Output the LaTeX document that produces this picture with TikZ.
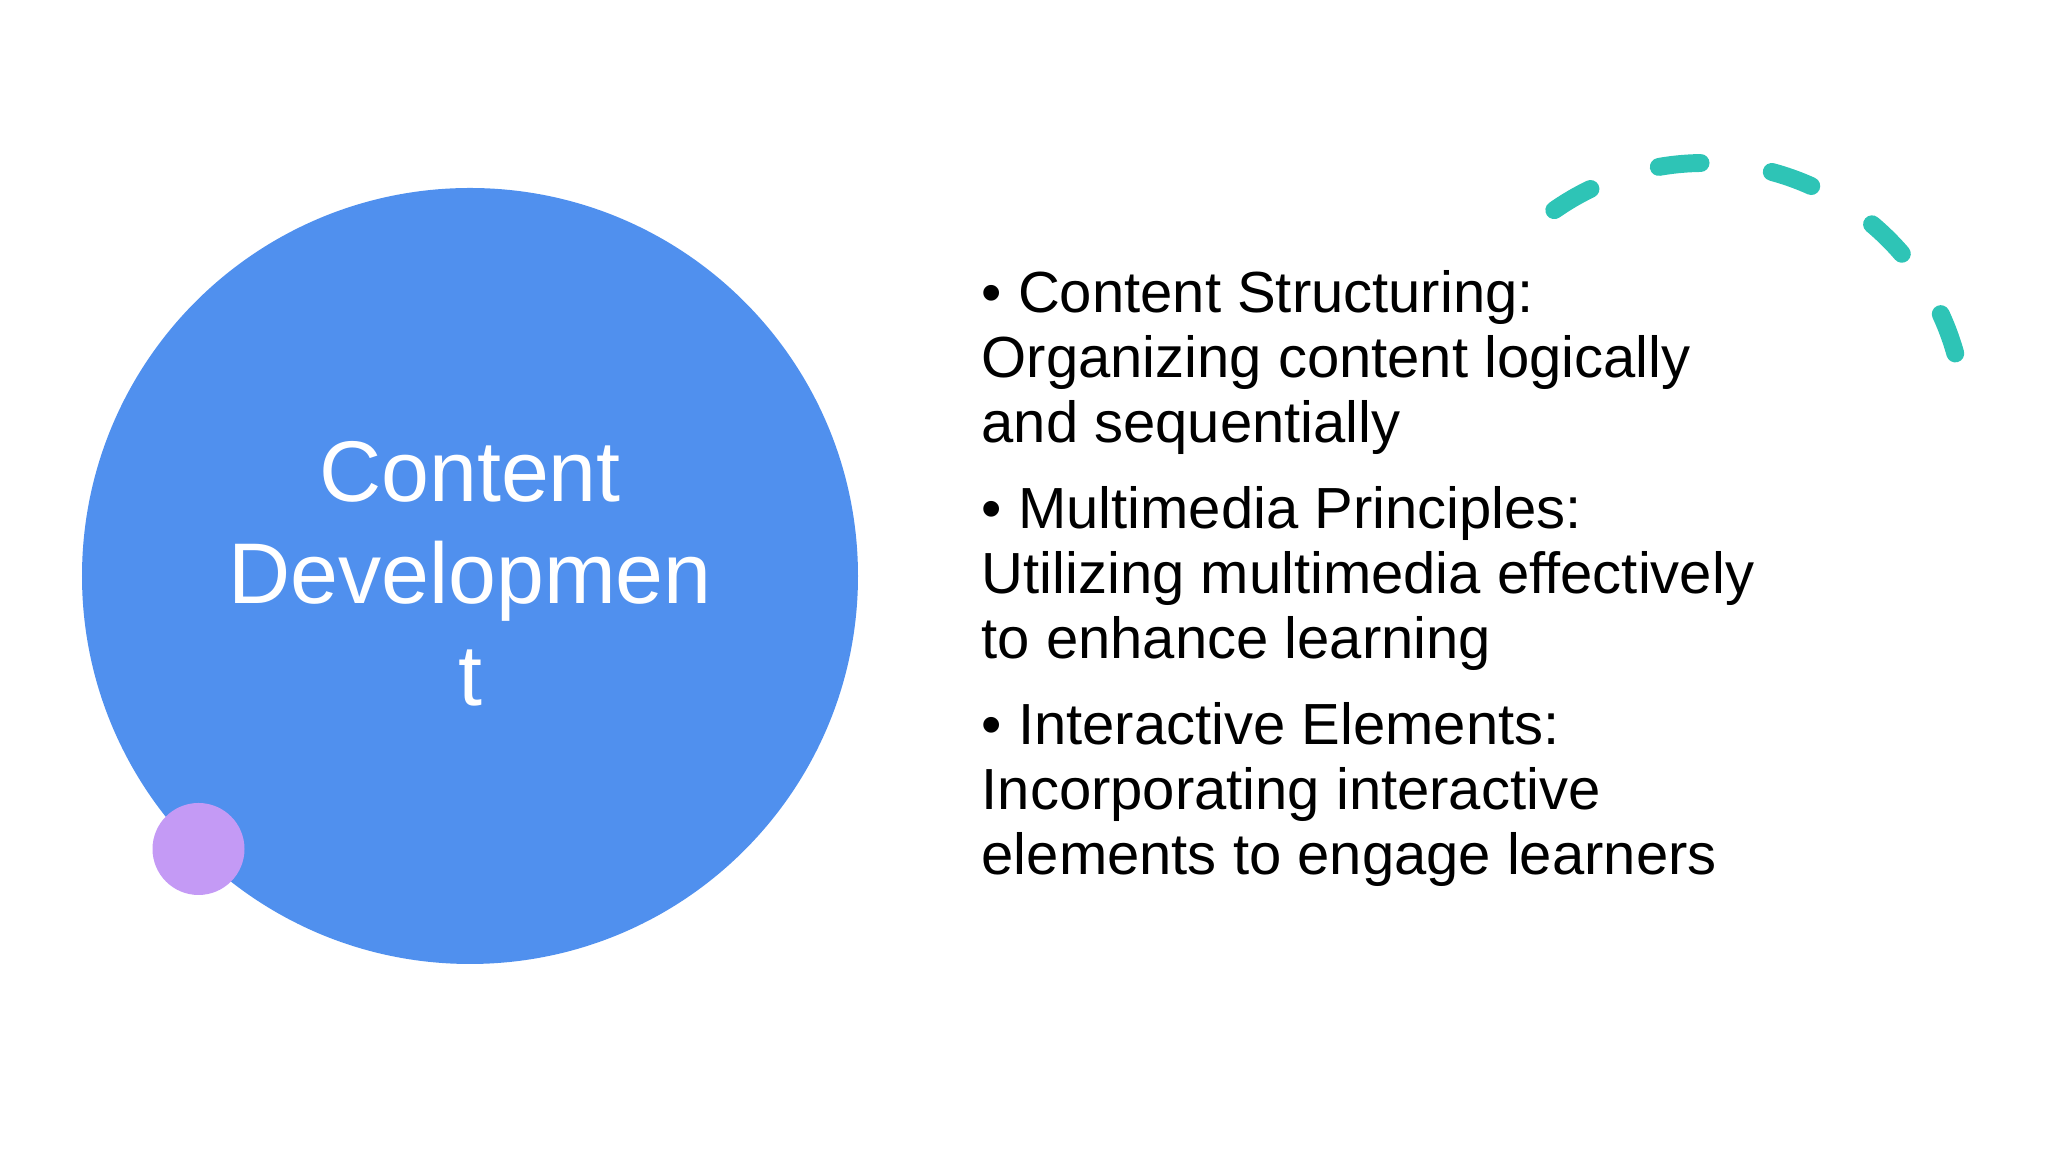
\documentclass[tikz,border=0pt]{standalone}
\usepackage{fontspec}
\setmainfont{Liberation Sans}
\definecolor{bigblue}{HTML}{5090EE}
\definecolor{lilac}{HTML}{C49AF5}
\definecolor{teal}{HTML}{2EC4B6}
\begin{document}
\begin{tikzpicture}
\useasboundingbox (0,0) rectangle (20.48,11.52);
\tikzset{
  bullettext/.style={anchor=north west,align=left,font=\fontsize{16.5}{18.5}\selectfont,text=black,inner sep=0pt},
}
\fill[bigblue] (4.70,5.76) circle (3.88);
\node[circle,fill=lilac,minimum size=0.92cm,inner sep=0pt] (dot) at (1.985,3.03) {};
\node[align=center,text=white,font=\fontsize{24.5}{29}\selectfont] (title) at (4.70,5.78) {Content\\Developmen\\t};
\draw[teal,line width=5.1pt,line cap=round,dash pattern=on 0.42cm off 0.72cm] ([shift={(125:2.61)}]17.04,7.28) arc (125:12:2.61);
\node[bullettext] (b1) at (9.81,8.82) {• Content Structuring:\\Organizing content logically\\and sequentially};
\node[bullettext] (b2) at (9.81,6.66) {• Multimedia Principles:\\Utilizing multimedia effectively\\to enhance learning};
\node[bullettext] (b3) at (9.81,4.50) {• Interactive Elements:\\Incorporating interactive\\elements to engage learners};
\end{tikzpicture}
\end{document}
